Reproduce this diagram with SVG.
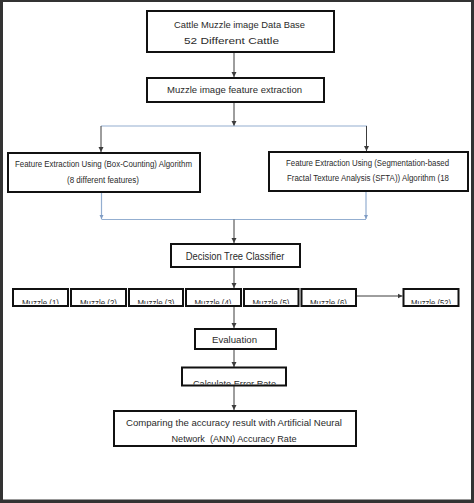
<svg xmlns="http://www.w3.org/2000/svg" width="474" height="503" viewBox="0 0 474 503">
<style>
.box{fill:#fff;stroke:#111;stroke-width:2}
.t{font-family:"Liberation Sans",Arial,sans-serif;fill:#2a2a2a;text-anchor:middle}
.c{stroke:#3c3c3c;stroke-width:1;fill:none}
.b{stroke:#93aed0;stroke-width:1.2;fill:none}
</style>
<defs>
<marker id="ah" markerWidth="6" markerHeight="6" refX="5" refY="3" orient="auto" markerUnits="userSpaceOnUse">
<path d="M0,0.5 L5,3 L0,5.5 Z" fill="#3c3c3c"/>
</marker>
<marker id="ahb" markerWidth="5" markerHeight="5" refX="4" refY="2.5" orient="auto" markerUnits="userSpaceOnUse">
<path d="M0,0.5 L4,2.5 L0,4.5 Z" fill="#7f9cc4"/>
</marker>
<clipPath id="cm"><rect x="0" y="289" width="474" height="15"/></clipPath>
<clipPath id="cc"><rect x="182" y="368" width="104" height="16.5"/></clipPath>
<clipPath id="cf"><rect x="114" y="411" width="242" height="33.5"/></clipPath>
</defs>
<rect x="0" y="0" width="474" height="503" fill="#333"/>
<rect x="3" y="2" width="468" height="497.5" fill="#fff"/>

<g id="connectors">
<line class="c" x1="234" y1="52" x2="234" y2="77" marker-end="url(#ah)"/>
<line class="c" x1="234" y1="102" x2="234" y2="126" marker-end="url(#ah)"/>
<line class="b" x1="101" y1="126" x2="367" y2="126"/>
<line class="c" x1="101" y1="126" x2="101" y2="152" marker-end="url(#ah)"/>
<line class="c" x1="366.5" y1="126" x2="366.5" y2="151" marker-end="url(#ah)"/>
<line class="b" x1="101.5" y1="192" x2="101.5" y2="219" marker-end="url(#ahb)"/>
<line class="b" x1="366" y1="191" x2="366" y2="219" marker-end="url(#ahb)"/>
<line class="b" x1="101.5" y1="219.5" x2="366" y2="219.5"/>
<line class="c" x1="234" y1="219.5" x2="234" y2="243" marker-end="url(#ah)"/>
<line class="c" x1="234" y1="267" x2="234" y2="288" marker-end="url(#ah)"/>
<line class="c" x1="356" y1="296" x2="402.5" y2="296" marker-end="url(#ah)"/>
<line class="c" x1="234" y1="306" x2="234" y2="328" marker-end="url(#ah)"/>
<line class="c" x1="234" y1="349" x2="234" y2="367" marker-end="url(#ah)"/>
<line class="c" x1="234" y1="386" x2="234" y2="410" marker-end="url(#ah)"/>
</g>

<g id="db">
<rect class="box" x="147" y="11" width="187" height="41"/>
<text class="t" x="239.5" y="28" font-size="9.5" textLength="131" lengthAdjust="spacingAndGlyphs">Cattle Muzzle image Data Base</text>
<text class="t" x="231.5" y="43.5" font-size="9.2" textLength="95" lengthAdjust="spacingAndGlyphs">52 Different Cattle</text>
</g>

<g id="mfe">
<rect class="box" x="147" y="78" width="177" height="24"/>
<text class="t" x="234.5" y="93" font-size="9.5" textLength="135" lengthAdjust="spacingAndGlyphs">Muzzle image feature extraction</text>
</g>

<g id="boxcount">
<rect class="box" x="8" y="153" width="192" height="39"/>
<text class="t" x="103.5" y="167" font-size="8.3" textLength="177" lengthAdjust="spacingAndGlyphs">Feature Extraction Using (Box-Counting) Algorithm</text>
<text class="t" x="103" y="182.5" font-size="8.3" textLength="72" lengthAdjust="spacingAndGlyphs">(8 different features)</text>
</g>

<g id="sfta">
<rect class="box" x="269" y="152" width="199" height="39"/>
<text class="t" x="367.5" y="166" font-size="8.3" textLength="163" lengthAdjust="spacingAndGlyphs">Feature Extraction Using (Segmentation-based</text>
<text class="t" x="368" y="181" font-size="8.3" textLength="162" lengthAdjust="spacingAndGlyphs">Fractal Texture Analysis (SFTA)) Algorithm (18</text>
</g>

<g id="dtc">
<rect class="box" x="171" y="244" width="129" height="23"/>
<text class="t" x="235" y="260" font-size="10" textLength="98.6" lengthAdjust="spacingAndGlyphs">Decision Tree Classifier</text>
</g>

<g id="m1"><rect class="box" x="13" y="289" width="55" height="17"/><text class="t" x="40.5" y="306" font-size="8.5" textLength="37" lengthAdjust="spacingAndGlyphs" clip-path="url(#cm)">Muzzle (1)</text></g>
<g id="m2"><rect class="box" x="71" y="289" width="55" height="17"/><text class="t" x="98.5" y="306" font-size="8.5" textLength="37" lengthAdjust="spacingAndGlyphs" clip-path="url(#cm)">Muzzle (2)</text></g>
<g id="m3"><rect class="box" x="129" y="289" width="54" height="17"/><text class="t" x="156" y="306" font-size="8.5" textLength="37" lengthAdjust="spacingAndGlyphs" clip-path="url(#cm)">Muzzle (3)</text></g>
<g id="m4"><rect class="box" x="186" y="289" width="55" height="17"/><text class="t" x="213" y="306" font-size="8.5" textLength="37" lengthAdjust="spacingAndGlyphs" clip-path="url(#cm)">Muzzle (4)</text></g>
<g id="m5"><rect class="box" x="244" y="289" width="54.5" height="17"/><text class="t" x="271" y="306" font-size="8.5" textLength="37" lengthAdjust="spacingAndGlyphs" clip-path="url(#cm)">Muzzle (5)</text></g>
<g id="m6"><rect class="box" x="301.5" y="289" width="54.5" height="17"/><text class="t" x="328.5" y="306" font-size="8.5" textLength="37" lengthAdjust="spacingAndGlyphs" clip-path="url(#cm)">Muzzle (6)</text></g>
<g id="m52"><rect class="box" x="403.5" y="289" width="55" height="17"/><text class="t" x="431" y="306" font-size="8.5" textLength="40" lengthAdjust="spacingAndGlyphs" clip-path="url(#cm)">Muzzle (52)</text></g>

<g id="eval">
<rect class="box" x="195" y="329" width="81" height="20"/>
<text class="t" x="234.5" y="343" font-size="9.5" textLength="45" lengthAdjust="spacingAndGlyphs">Evaluation</text>
</g>

<g id="calc">
<rect class="box" x="182" y="367.5" width="104" height="18"/>
<text class="t" x="234.5" y="386.5" font-size="9.5" textLength="83" lengthAdjust="spacingAndGlyphs" clip-path="url(#cc)">Calculate Error Rate</text>
</g>

<g id="compare">
<rect class="box" x="114" y="411" width="242" height="35"/>
<text class="t" x="234" y="425.5" font-size="9.5" textLength="216" lengthAdjust="spacingAndGlyphs">Comparing the accuracy result with Artificial Neural</text>
<text class="t" x="234" y="442" font-size="9.5" textLength="125" lengthAdjust="spacingAndGlyphs" clip-path="url(#cf)" xml:space="preserve">Network  (ANN) Accuracy Rate</text>
</g>
</svg>
